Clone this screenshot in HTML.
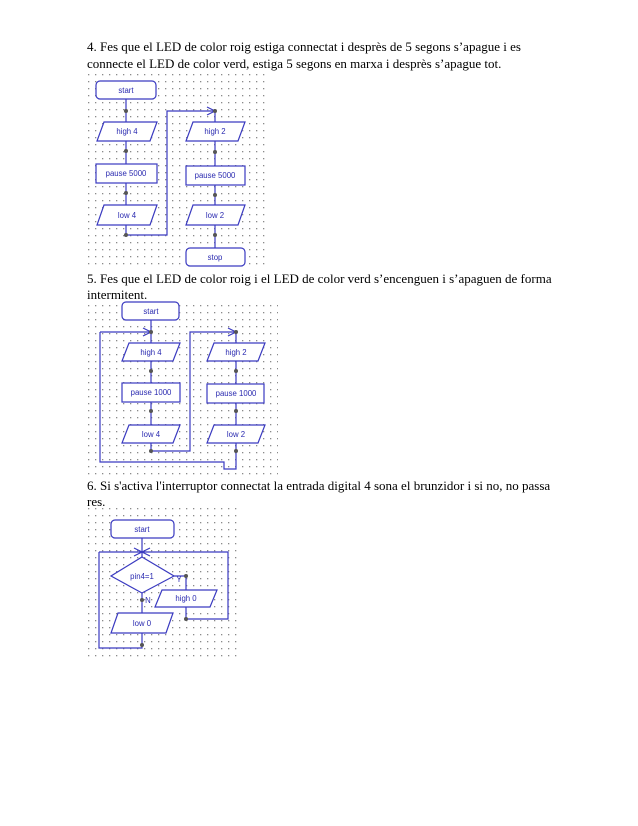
<!DOCTYPE html>
<html><head><meta charset="utf-8"><style>
body{margin:0;background:#fff;width:638px;height:826px;overflow:hidden}
svg{position:absolute;left:0;top:0}
text.p{font-family:"Liberation Serif",serif;font-size:13px;fill:#000}
text.l{font-family:"Liberation Sans",sans-serif;font-size:7.8px;fill:#2a2ab0;text-anchor:middle}
.s{fill:#fff;stroke:#3a3ac0;stroke-width:1.2}
.w{fill:none;stroke:#3a3ac0;stroke-width:1.2}
.d{fill:#555}
</style></head><body>
<svg width="638" height="826" viewBox="0 0 638 826">
<defs>
<pattern id="g" x="88" y="74" width="7" height="7" patternUnits="userSpaceOnUse"><rect x="0" y="0" width="1.3" height="1.3" fill="#8a8a8a"/></pattern>
</defs>
<text class="p" x="87" y="51">4. Fes que el LED de color roig estiga connectat i desprès de 5 segons s’apague i es</text>
<text class="p" x="87" y="68">connecte el LED de color verd, estiga 5 segons en marxa i desprès s’apague tot.</text>
<text class="p" x="87" y="283">5. Fes que el LED de color roig i el LED de color verd s’encenguen i s’apaguen de forma</text>
<text class="p" x="87" y="299">intermitent.</text>
<text class="p" x="87" y="490">6. Si s'activa l'interruptor connectat la entrada digital 4 sona el brunzidor i si no, no passa</text>
<text class="p" x="87" y="506">res.</text>

<!-- Diagram 1 -->
<rect x="87" y="73" width="182" height="196" fill="url(#g)"/>
<path class="w" d="M126 99V235H167V111H215M215 111V248"/>
<path class="w" d="M207 107L215 111L207 115"/>
<rect class="s" x="96" y="81" width="60" height="18" rx="4"/><text class="l" x="126" y="93">start</text>
<polygon class="s" points="104,122 157,122 150,141 97,141"/><text class="l" x="127" y="134">high 4</text>
<rect class="s" x="96" y="164" width="61" height="19"/><text class="l" x="126" y="176">pause 5000</text>
<polygon class="s" points="104,205 157,205 150,225 97,225"/><text class="l" x="127" y="218">low 4</text>
<polygon class="s" points="193,122 245,122 238,141 186,141"/><text class="l" x="215" y="134">high 2</text>
<rect class="s" x="186" y="166" width="59" height="19"/><text class="l" x="215" y="178">pause 5000</text>
<polygon class="s" points="193,205 245,205 238,225 186,225"/><text class="l" x="215" y="218">low 2</text>
<rect class="s" x="186" y="248" width="59" height="18" rx="4"/><text class="l" x="215" y="260">stop</text>
<g class="d"><circle cx="126" cy="111" r="2"/><circle cx="126" cy="151" r="2"/><circle cx="126" cy="193" r="2"/><circle cx="126" cy="235" r="2"/><circle cx="215" cy="111" r="2"/><circle cx="215" cy="152" r="2"/><circle cx="215" cy="195" r="2"/><circle cx="215" cy="235" r="2"/></g>

<!-- Diagram 2 -->
<rect x="88" y="300" width="190" height="175" fill="url(#g)"/>
<path class="w" d="M151 320V451H190V332H236M100 332H151M100 332V462H224V469H236V332"/>
<path class="w" d="M143 328L151 332L143 336M228 328L236 332L228 336"/>
<rect class="s" x="122" y="302" width="57" height="18" rx="4"/><text class="l" x="151" y="314">start</text>
<polygon class="s" points="129,343 180,343 173,361 122,361"/><text class="l" x="151" y="355">high 4</text>
<rect class="s" x="122" y="383" width="58" height="19"/><text class="l" x="151" y="395">pause 1000</text>
<polygon class="s" points="129,425 180,425 173,443 122,443"/><text class="l" x="151" y="437">low 4</text>
<polygon class="s" points="214,343 265,343 258,361 207,361"/><text class="l" x="236" y="355">high 2</text>
<rect class="s" x="207" y="384" width="57" height="19"/><text class="l" x="236" y="396">pause 1000</text>
<polygon class="s" points="214,425 265,425 258,443 207,443"/><text class="l" x="236" y="437">low 2</text>
<g class="d"><circle cx="151" cy="332" r="2"/><circle cx="151" cy="371" r="2"/><circle cx="151" cy="411" r="2"/><circle cx="151" cy="451" r="2"/><circle cx="236" cy="332" r="2"/><circle cx="236" cy="371" r="2"/><circle cx="236" cy="411" r="2"/><circle cx="236" cy="451" r="2"/></g>

<!-- Diagram 3 -->
<rect x="88" y="505" width="152" height="155" fill="url(#g)"/>
<path class="w" d="M142 538V557M99 552H228V619H186V576H174M142 593V613M142 633V648H99V552"/>
<path class="w" d="M134 548L142 552L134 556M150 548L142 552L150 556"/>
<rect class="s" x="111" y="520" width="63" height="18" rx="4"/><text class="l" x="142" y="532">start</text>
<polygon class="s" points="142,557 174,576 142,593 111,576"/><text class="l" x="142" y="579">pin4=1</text>
<text class="l" x="179" y="582">Y</text><text class="l" x="148" y="603">N</text>
<polygon class="s" points="162,590 217,590 210,607 155,607"/><text class="l" x="186" y="601">high 0</text>
<polygon class="s" points="118,613 173,613 166,633 111,633"/><text class="l" x="142" y="626">low 0</text>
<g class="d"><circle cx="186" cy="576" r="2"/><circle cx="142" cy="600" r="2"/><circle cx="186" cy="619" r="2"/><circle cx="142" cy="645" r="2"/></g>
</svg>
</body></html>
